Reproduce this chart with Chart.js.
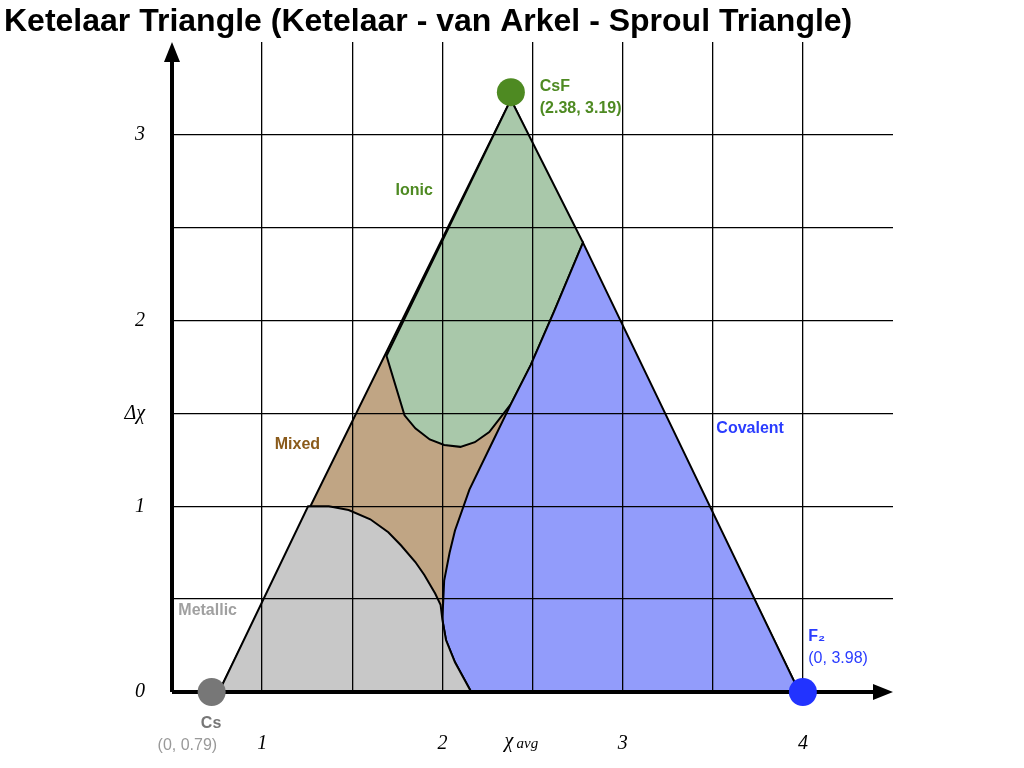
<!DOCTYPE html>
<html><head><meta charset="utf-8">
<script src="https://cdn.jsdelivr.net/npm/chart.js@4"></script>
<style>body{margin:0;background:#fff}canvas{display:block}</style>
</head><body>
<canvas id="c" width="1024" height="768"></canvas>
<script>
const titleText = "Ketelaar Triangle (Ketelaar - van Arkel - Sproul Triangle)";
const triangle = [[0.76,0],[2.38,3.19],[3.98,0],[0.76,0]];
const ionic = [[2.38,3.19],[2.78,2.42],[2.62,2.05],[2.49,1.76],[2.38,1.55],[2.26,1.40],[2.18,1.345],[2.10,1.32],[2.01,1.33],[1.93,1.36],[1.85,1.42],[1.79,1.49],[1.69,1.81],[2.38,3.19]];
const covalent = [[2.16,0],[2.07,0.16],[2.02,0.28],[2.00,0.39],[2.01,0.60],[2.04,0.75],[2.07,0.87],[2.15,1.09],[2.27,1.33],[2.38,1.55],[2.49,1.76],[2.62,2.05],[2.78,2.42],[3.98,0],[2.16,0]];
const metallic = [[0.76,0],[1.255,1.0],[1.37,1.0],[1.48,0.98],[1.60,0.93],[1.70,0.86],[1.77,0.79],[1.85,0.70],[1.90,0.63],[1.96,0.53],[1.99,0.47],[2.00,0.39],[2.02,0.28],[2.07,0.16],[2.16,0],[0.76,0]];
const pointCs = [[0.72,0]];
const pointCsF = [[2.38,3.23]];
const pointF2 = [[4.0,0]];
const xTickLabels = {1:'1',2:'2',3:'3',4:'4'};
const yTickLabels = {0:'0',1:'1',1.5:'Δχ',2:'2',3:'3'};
const textLabels = [
  {t:'CsF', x:2.54, y:3.26, c:'#4e8a22', b:true},
  {t:'(2.38, 3.19)', x:2.54, y:3.14, c:'#4e8a22', b:true},
  {t:'Ionic', x:1.74, y:2.7, c:'#4e8a22', b:true},
  {t:'Mixed', x:1.07, y:1.33, c:'#8a5a1a', b:true},
  {t:'Covalent', x:3.52, y:1.42, c:'#2a3cff', b:true},
  {t:'Metallic', x:0.535, y:0.44, c:'#a0a0a0', b:true},
  {t:'F₂', x:4.03, y:0.3, c:'#2a3cff', b:true},
  {t:'(0, 3.98)', x:4.03, y:0.18, c:'#2a3cff', b:false},
  {t:'Cs', x:0.66, y:-0.17, c:'#777', b:true},
  {t:'(0, 0.79)', x:0.42, y:-0.29, c:'#999', b:false}
];
const pts = a => a.map(p=>({x:p[0],y:p[1]}));
function poly(data, color, order){
  return {data:pts(data), order:order, showLine:true, fill:'shape', backgroundColor:color, borderColor:'#000', borderWidth:2, pointRadius:0, tension:0};
}
const overlay = {
  id:'overlay',
  afterDraw(chart){
    const ctx=chart.ctx, xs=chart.scales.x, ys=chart.scales.y;
    ctx.save();
    const x0=xs.getPixelForValue(0.5), y0=ys.getPixelForValue(0);
    const yTop=ys.getPixelForValue(3.5), xEnd=xs.getPixelForValue(4.5);
    ctx.strokeStyle='#000'; ctx.fillStyle='#000'; ctx.lineWidth=4;
    ctx.beginPath(); ctx.moveTo(x0,y0); ctx.lineTo(x0,yTop+14); ctx.stroke();
    ctx.beginPath(); ctx.moveTo(x0,y0); ctx.lineTo(xEnd-14,y0); ctx.stroke();
    ctx.beginPath(); ctx.moveTo(x0,yTop); ctx.lineTo(x0-8,yTop+20); ctx.lineTo(x0+8,yTop+20); ctx.closePath(); ctx.fill();
    ctx.beginPath(); ctx.moveTo(xEnd,y0); ctx.lineTo(xEnd-20,y0-8); ctx.lineTo(xEnd-20,y0+8); ctx.closePath(); ctx.fill();
    // marker points on top
    [[pointCs,'#777'],[pointCsF,'#4e8a22'],[pointF2,'#2233ff']].forEach(([a,c])=>{
      ctx.fillStyle=c; ctx.beginPath();
      ctx.arc(xs.getPixelForValue(a[0][0]), ys.getPixelForValue(a[0][1]), 14, 0, Math.PI*2); ctx.fill();
    });
    ctx.textBaseline='middle'; ctx.textAlign='left';
    textLabels.forEach(l=>{
      ctx.font=(l.b?'bold ':'')+'16px "Liberation Sans", Arial, sans-serif';
      ctx.fillStyle=l.c;
      ctx.fillText(l.t, xs.getPixelForValue(l.x), ys.getPixelForValue(l.y));
    });
    const lx=xs.getPixelForValue(2.5)-28, ly=742;
    ctx.fillStyle='#000';
    ctx.font='italic 20px "Liberation Serif", serif';
    ctx.fillText('χ', lx, ly);
    ctx.font='italic 15px "Liberation Serif", serif';
    ctx.fillText('avg', lx+12, ly+2);
    ctx.font='bold 32px "Liberation Sans", Arial, sans-serif';
    ctx.fillText(titleText, 4, 22);
    ctx.restore();
  }
};
new Chart(document.getElementById('c'), {
  type:'scatter',
  data:{datasets:[
    poly(metallic,'#c8c8c8',1),
    poly(covalent,'#929cfb',2),
    poly(ionic,'#a9c8aa',3),
    poly(triangle,'#c0a584',4)
  ]},
  options:{
    responsive:false, animation:false,
    layout:{padding:{top:42,right:131,left:0,bottom:0}},
    plugins:{legend:{display:false},tooltip:{enabled:false}},
    scales:{
      x:{type:'linear',min:0.5,max:4.5,
        afterFit(s){s.height=76;},
        border:{display:false},
        grid:{z:1,color:c=>(c.tick && (c.tick.value===4.5||c.tick.value===0.5))?'rgba(0,0,0,0)':'#000',lineWidth:1.3,drawTicks:false},
        ticks:{stepSize:0.5,padding:40,autoSkip:false,maxRotation:0,color:'#000',font:{family:'"Liberation Serif", serif',style:'italic',size:20},
          callback:v=>xTickLabels[v]||''}},
      y:{type:'linear',min:0,max:3.5,
        afterFit(s){s.width=172;},
        border:{display:false},
        grid:{z:1,color:c=>(c.tick && (c.tick.value===3.5||c.tick.value===0))?'rgba(0,0,0,0)':'#000',lineWidth:1.3,drawTicks:false},
        ticks:{stepSize:0.5,padding:27,autoSkip:false,color:'#000',font:{family:'"Liberation Serif", serif',style:'italic',size:20},
          callback:v=>yTickLabels[v]||''}}
    }
  },
  plugins:[overlay]
});
</script>
</body></html>
